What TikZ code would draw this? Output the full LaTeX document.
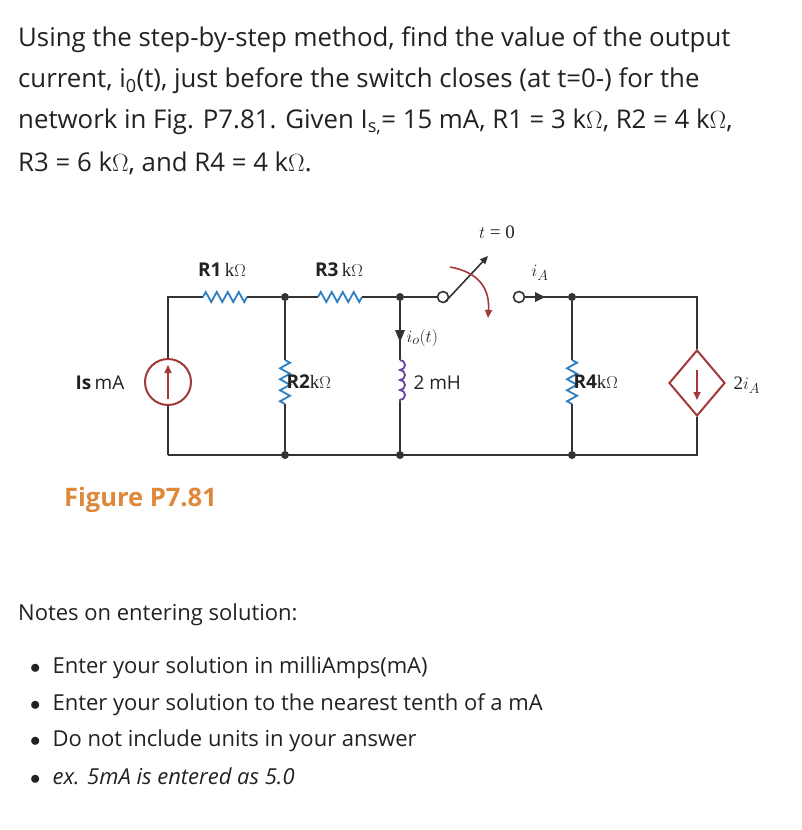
\documentclass[tikz,border=0pt]{standalone}
\usepackage{fontspec}
\setmainfont{Open Sans}
\newfontfamily\serf{Liberation Serif}
\usetikzlibrary{decorations.pathmorphing,arrows.meta,shapes.geometric}
\definecolor{wire}{HTML}{333333}
\definecolor{resb}{HTML}{2F7FC1}
\definecolor{srcr}{HTML}{A33A3A}
\definecolor{indp}{HTML}{6A3FA0}
\definecolor{figo}{HTML}{E0883A}
\definecolor{txt}{HTML}{222222}
\begin{document}
\begin{tikzpicture}[x=1pt,y=-1pt,
  w/.style={line width=2.6pt,draw=wire},
  res/.style={line width=1.8pt,draw=resb,decorate,decoration={zigzag,segment length=11,amplitude=5}},
  dot/.style={circle,fill=wire,inner sep=0pt,minimum size=8pt},
  lab/.style={font=\fontsize{19}{19}\selectfont,text=txt},
  body/.style={font=\fontsize{25.8}{30}\selectfont,text=txt,anchor=west,inner sep=0pt},
  note/.style={body,font=\fontsize{22}{26}\selectfont}]
\useasboundingbox (0,0) rectangle (802,830);
\fill[white] (0,0) rectangle (802,830);
% text
\node[body] (t1) at (18,40) {Using the step-by-step method, find the value of the output};
\node[body] (t2) at (18,81) {current, i\textsubscript{0}(t), just before the switch closes (at t=0-) for the};
\node[body] (t3) at (18,122) {network in Fig. P7.81. Given I\textsubscript{s,}= 15 mA, R1 = 3 k$\Omega$, R2 = 4 k$\Omega$,};
\node[body] (t4) at (18,163) {R3 = 6 k$\Omega$, and R4 = 4 k$\Omega$.};
\node[body,font=\fontsize{25.5}{26}\selectfont\bfseries,text=figo] (fig) at (64,500) {Figure P7.81};
\node[note] (n0) at (18,615) {Notes on entering solution:};
\node[note] (b1) at (30,668) {$\bullet$\hspace{12pt}Enter your solution in milliAmps(mA)};
\node[note] (b2) at (30,705) {$\bullet$\hspace{12pt}Enter your solution to the nearest tenth of a mA};
\node[note] (b3) at (30,741) {$\bullet$\hspace{12pt}Do not include units in your answer};
\node[note] (b4) at (30,776) {$\bullet$\hspace{12pt}\textit{ex. 5mA is entered as 5.0}};
% nodes
\coordinate (tl) at (168,297); \coordinate (bl) at (168,455);
\node[dot] (a) at (285,297) {}; \node[dot] (ab) at (285,455) {};
\node[dot] (b) at (400,297) {}; \node[dot] (bb) at (400,455) {};
\node[dot] (c) at (572,297) {}; \node[dot] (cb) at (572,455) {};
\coordinate (tr) at (697,297); \coordinate (br) at (697,455);
\node[circle,draw=wire,line width=1.6pt,fill=white,inner sep=0pt,minimum size=11pt] (s1) at (443,297) {};
\node[circle,draw=wire,line width=1.6pt,fill=white,inner sep=0pt,minimum size=11pt] (s2) at (519,297) {};
\node[circle,draw=srcr,line width=2pt,minimum size=46pt,inner sep=0pt] (src) at (168,382) {};
\node[diamond,draw=srcr,line width=2pt,minimum width=56pt,minimum height=66pt,inner sep=0pt] (dep) at (697,383) {};
% wires
\draw[w] (bl) -- (src.south); \draw[w] (src.north) -- (tl) -- (203,297);
\draw[res] (203,297) -- (247,297); \draw[w] (247,297) -- (a) -- (318,297);
\draw[res] (318,297) -- (362,297); \draw[w] (362,297) -- (b) -- (s1);
\draw[w] (s2) -- (c) -- (tr) -- (dep.north);
\draw[w] (dep.south) -- (br) -- (bl);
\draw[w] (a) -- (285,360); \draw[res] (285,360) -- (285,404); \draw[w] (285,404) -- (ab);
\draw[w] (b) -- (400,360); \draw[indp,line width=1.8pt] (400,360)
  \foreach \i in {0,...,3}{ arc[start angle=-90,end angle=90,radius=5] } -- (400,402);
\draw[w] (400,402) -- (bb);
\draw[w] (c) -- (572,360); \draw[res] (572,360) -- (572,404); \draw[w] (572,404) -- (cb);
% arrows
\draw[srcr,line width=1.6pt,-{Triangle[length=8pt,width=7pt]}] (168,399) -- (168,365);
\draw[srcr,line width=1.6pt,-{Triangle[length=8pt,width=7pt]}] (697,370) -- (697,400);
\draw[wire,line width=1.6pt,-{Triangle[length=8pt,width=7pt]}] (445,302) -- (488,256);
\draw[srcr,line width=1.6pt,-{Triangle[length=8pt,width=7pt]}] (450,267) .. controls (478,272) and (490,288) .. (488,318);
\fill[wire] (545,297) -- (535,292) -- (535,302) -- cycle;
\fill[wire] (395,330) -- (405,330) -- (400,342) -- cycle;
% labels
\node[lab] (l1) at (222,270) {\textbf{R1}\,\serf k$\Omega$};
\node[lab] (l3) at (339,270) {\textbf{R3}\,\serf k$\Omega$};
\node[lab] (ls) at (100,383) {\textbf{Is}\,mA};
\node[lab,anchor=west] (l2) at (283,382) {\textbf{R2}\serf k$\Omega$};
\node[lab,anchor=west] (l4) at (570,382) {\textbf{R4}\serf k$\Omega$};
\node[lab,anchor=west] (lL) at (410,383) {2 mH};
\node[lab,anchor=west] (lio) at (403,338) {\serf$i_o(t)$};
\node[lab] (lt) at (497,232) {\serf$t$ = 0};
\node[lab] (lia) at (540,273) {\serf$i_A$};
\node[lab,anchor=west] (l2i) at (730,385) {\serf 2$i_A$};
\end{tikzpicture}
\end{document}
